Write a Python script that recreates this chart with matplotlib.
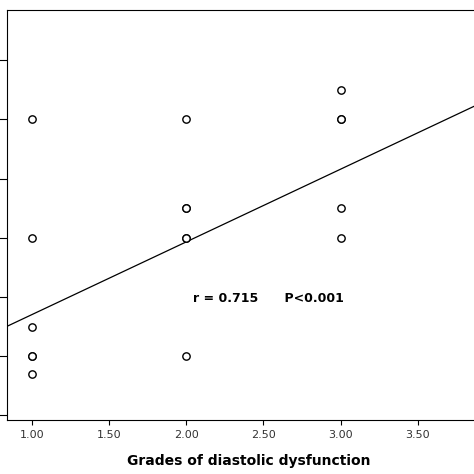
import numpy as np
import matplotlib.pyplot as plt

x = [1,1,1,1,1,1, 2,2,2,2,2,2, 3,3,3,3,3]
y = [5,3,1.5,1,1,0.7, 5,3.5,3.5,3,3,1, 5.5,5,5,3.5,3]
yticks = [0,1,2,3,4,5,6]
xticks = [1.0,1.5,2.0,2.5,3.0,3.5]
fit_slope = 1.23
fit_intercept = 0.47

fig = plt.figure(figsize=(4.74,4.74), dpi=100)
ax = fig.add_axes([7/474, 54/474, 1.02, 410/474])
ax.scatter(x, y, s=28, facecolors='white', edgecolors='black', linewidths=1.0, zorder=3)
xs = np.array([0.84, 4.0])
ax.plot(xs, fit_slope*xs+fit_intercept, color='black', lw=0.9)
ax.set_xlim(0.84, 3.97)
ax.set_ylim(-0.08, 6.85)
ax.set_yticks(yticks)
ax.set_yticklabels([])
ax.set_xticks(xticks)
ax.set_xticklabels([f"{t:.2f}" for t in xticks], fontsize=8, color='#333333')
ax.tick_params(axis='y', direction='out', length=6)
ax.set_xlabel("Grades of diastolic dysfunction", fontsize=10, fontweight='bold', labelpad=10)
ax.text(2.53, 1.98, "r = 0.715      P<0.001", fontsize=9, fontweight='bold', ha='center', va='center')
fig.savefig("out.png", dpi=100)
